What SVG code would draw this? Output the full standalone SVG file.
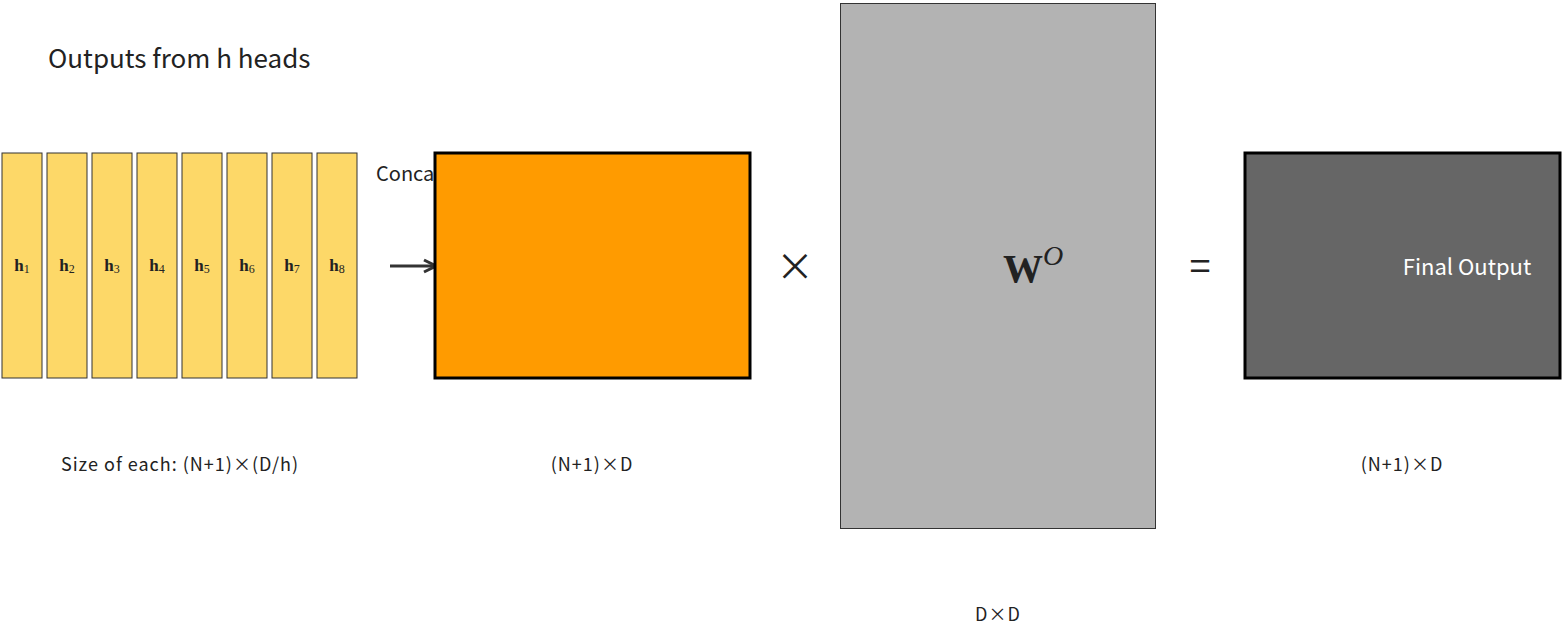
<svg xmlns="http://www.w3.org/2000/svg" width="1565" height="624" viewBox="0 0 1565 624">
<defs>
<marker id="arr" viewBox="0 0 18 18" refX="16" refY="9" markerWidth="18" markerHeight="18" markerUnits="userSpaceOnUse" orient="auto">
<path d="M4,3 L16,9 L4,15" fill="none" stroke="#333" stroke-width="3"/>
</marker>
<style>
.head{fill:#FDD868;stroke:#333;stroke-width:1}
.hl{font-family:"Liberation Serif",serif;font-weight:bold;font-size:17px;fill:#222;text-anchor:middle}
.hs{font-size:12px;font-weight:normal}
.t{font-family:"Noto Sans CJK JP","Liberation Sans",sans-serif;fill:#222}
.dim{font-family:"Noto Sans CJK JP","Liberation Sans",sans-serif;font-size:18px;letter-spacing:1px;fill:#222;text-anchor:middle}
.op{font-family:"Noto Sans CJK JP","Liberation Sans",sans-serif;font-size:38px;fill:#222;text-anchor:middle}
</style>
</defs>
<rect width="1565" height="624" fill="#fff"/>
<text class="t" x="48" y="68" font-size="26">Outputs from h heads</text>
<g id="heads">
<g id="h1"><rect class="head" x="2" y="153" width="40" height="225"/><text class="hl" x="22" y="271">h<tspan class="hs" dy="2">1</tspan></text></g>
<g id="h2"><rect class="head" x="47" y="153" width="40" height="225"/><text class="hl" x="67" y="271">h<tspan class="hs" dy="2">2</tspan></text></g>
<g id="h3"><rect class="head" x="92" y="153" width="40" height="225"/><text class="hl" x="112" y="271">h<tspan class="hs" dy="2">3</tspan></text></g>
<g id="h4"><rect class="head" x="137" y="153" width="40" height="225"/><text class="hl" x="157" y="271">h<tspan class="hs" dy="2">4</tspan></text></g>
<g id="h5"><rect class="head" x="182" y="153" width="40" height="225"/><text class="hl" x="202" y="271">h<tspan class="hs" dy="2">5</tspan></text></g>
<g id="h6"><rect class="head" x="227" y="153" width="40" height="225"/><text class="hl" x="247" y="271">h<tspan class="hs" dy="2">6</tspan></text></g>
<g id="h7"><rect class="head" x="272" y="153" width="40" height="225"/><text class="hl" x="292" y="271">h<tspan class="hs" dy="2">7</tspan></text></g>
<g id="h8"><rect class="head" x="317" y="153" width="40" height="225"/><text class="hl" x="337" y="271">h<tspan class="hs" dy="2">8</tspan></text></g>
</g>
<text class="dim" x="180" y="471">Size of each: (N+1)×(D/h)</text>
<text class="t" x="376" y="181" font-size="20">Concat</text>
<g id="connectors">
<line x1="390" y1="266" x2="436" y2="266" stroke="#333" stroke-width="3" marker-end="url(#arr)"/>
</g>
<g id="concat">
<rect x="435" y="153" width="315" height="225" fill="#FF9B00" stroke="#000" stroke-width="3"/>
<text class="dim" x="592" y="471">(N+1)×D</text>
</g>
<text class="op" x="795" y="280">×</text>
<g id="wo">
<rect x="840.5" y="3.5" width="315" height="525" fill="#B3B3B3" stroke="#333" stroke-width="1"/>
<text x="1003" y="282" font-family="Liberation Serif,serif" font-weight="bold" font-size="40" fill="#222">W<tspan font-style="italic" font-weight="normal" font-size="28" dy="-17">O</tspan></text>
<text class="dim" x="998" y="621">D×D</text>
</g>
<text class="op" x="1200" y="280">=</text>
<g id="final">
<rect x="1245" y="153" width="315" height="225" fill="#666" stroke="#000" stroke-width="3"/>
<text class="t" x="1467" y="275" font-size="22" text-anchor="middle" style="fill:#fff">Final Output</text>
<text class="dim" x="1402" y="471">(N+1)×D</text>
</g>
</svg>
